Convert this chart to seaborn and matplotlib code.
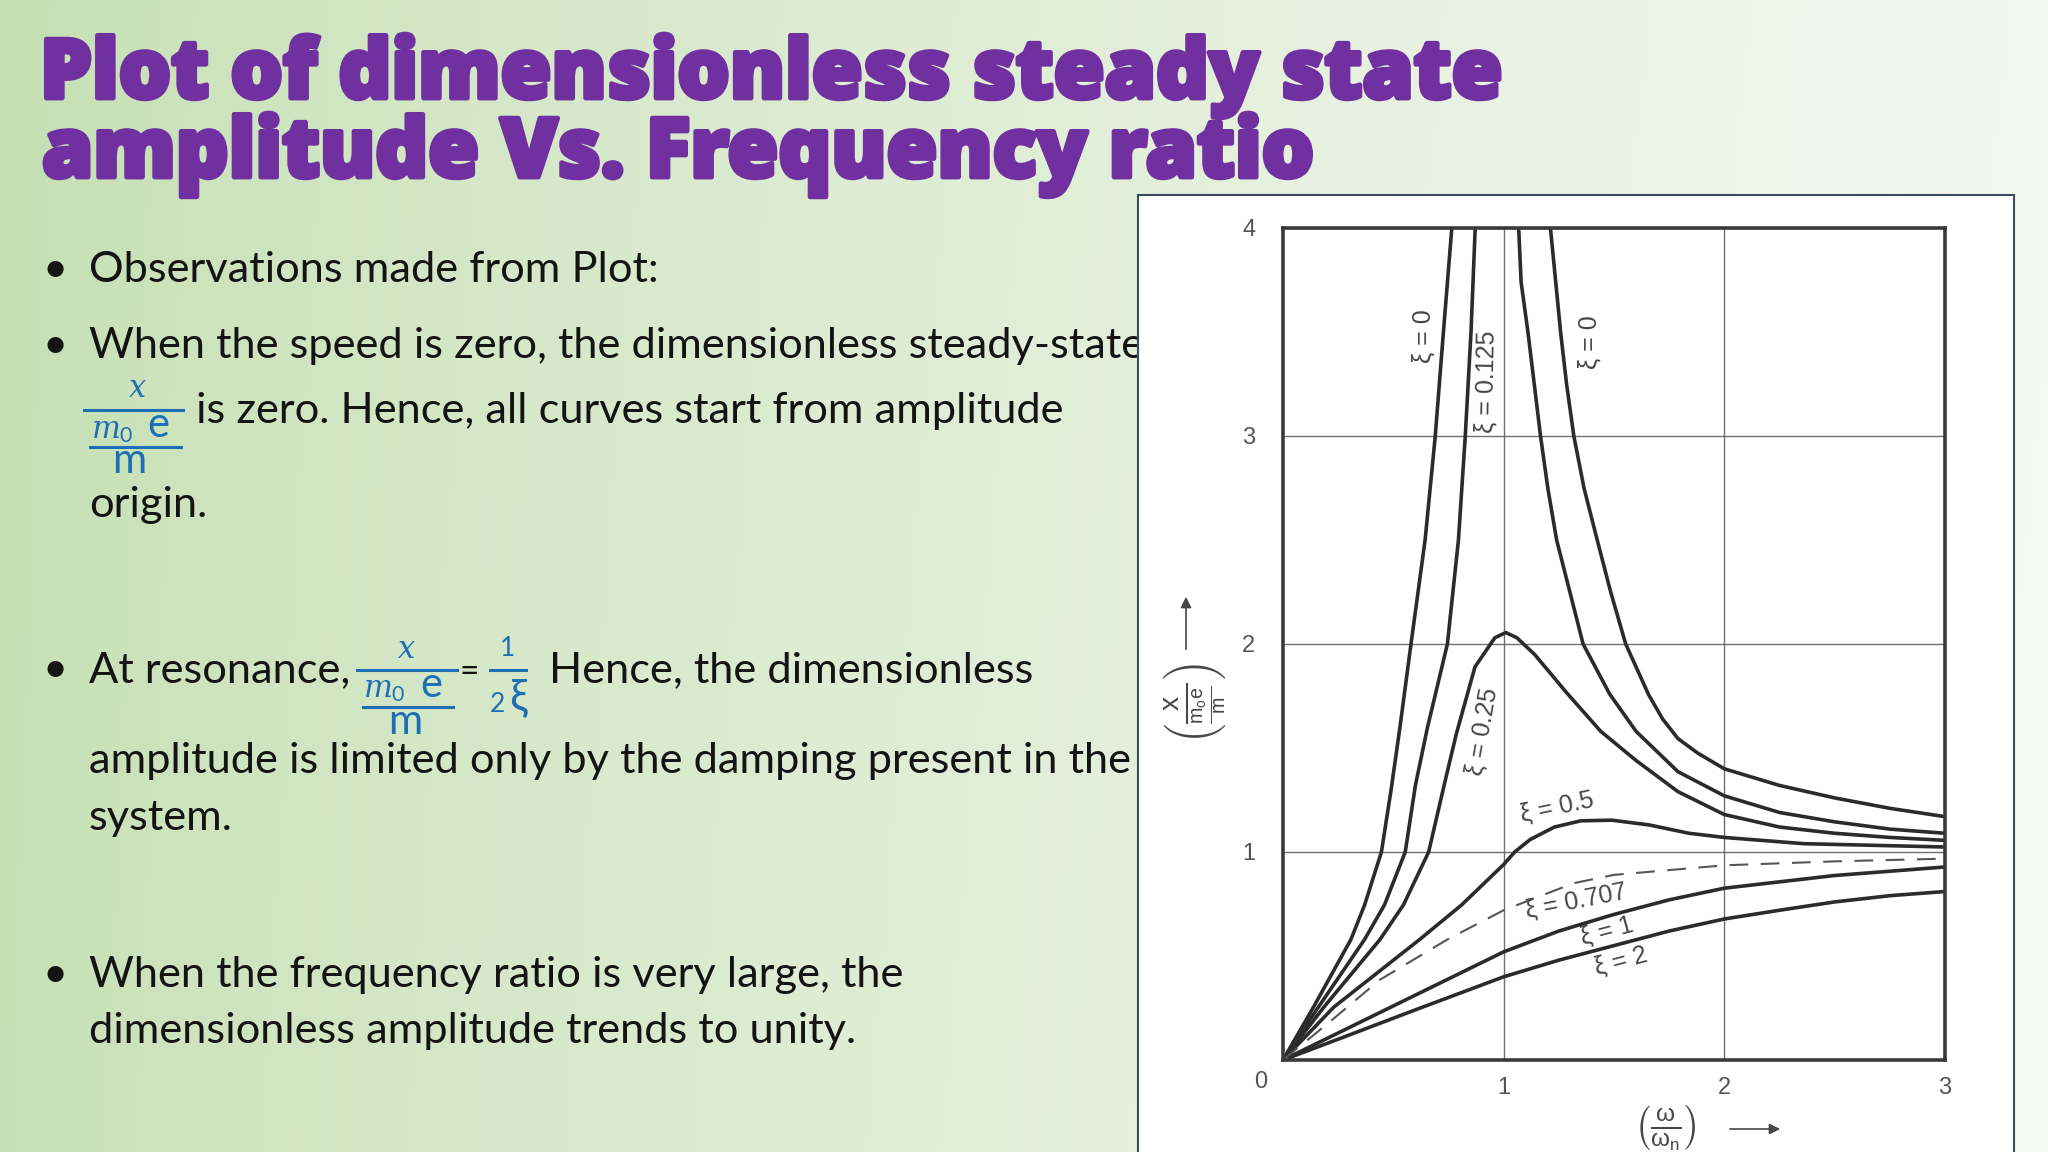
import numpy as np
import pandas as pd
import matplotlib
matplotlib.use("Agg")
import matplotlib.pyplot as plt
import matplotlib.patches as mpatches
import matplotlib.patheffects as pe
from matplotlib.lines import Line2D
import seaborn as sns

# values: frequency ratio r and dimensionless amplitude
r_xi0_left = [0, 0.138, 0.308, 0.37, 0.446, 0.49, 0.53, 0.58, 0.644, 0.69, 0.727, 0.765]
a_xi0_left = [0, 0.254, 0.58, 0.746, 1.0, 1.3, 1.6, 2.0, 2.5, 3.0, 3.5, 4.0]
r_xi0_right = [1.212, 1.235, 1.258, 1.285, 1.318, 1.364, 1.424, 1.485, 1.553, 1.657, 1.72,
               1.79, 1.88, 2.0, 2.25, 2.5, 2.75, 3.0]
a_xi0_right = [4.0, 3.75, 3.5, 3.25, 3.0, 2.75, 2.5, 2.25, 2.0, 1.756, 1.64,
               1.545, 1.475, 1.40, 1.32, 1.26, 1.21, 1.17]

r_xi0125_left = [0, 0.16, 0.37, 0.46, 0.554, 0.60, 0.655, 0.745, 0.795, 0.826, 0.852, 0.871]
a_xi0125_left = [0, 0.254, 0.58, 0.746, 1.0, 1.32, 1.6, 2.0, 2.5, 3.0, 3.5, 4.0]
r_xi0125_right = [1.068, 1.079, 1.11, 1.167, 1.20, 1.24, 1.30, 1.36, 1.48, 1.6, 1.79, 2.0,
                  2.25, 2.5, 2.75, 3.0]
a_xi0125_right = [4.0, 3.74, 3.5, 3.0, 2.75, 2.5, 2.25, 2.0, 1.76, 1.58, 1.386, 1.27,
                  1.19, 1.145, 1.11, 1.09]

r_xi025 = [0, 0.185, 0.44, 0.546, 0.66, 0.73, 0.785, 0.87, 0.96, 1.01, 1.06, 1.14, 1.29,
           1.44, 1.6, 1.79, 2.0, 2.25, 2.5, 2.75, 3.0]
a_xi025 = [0, 0.254, 0.58, 0.746, 1.0, 1.32, 1.566, 1.89, 2.03, 2.055, 2.03, 1.95, 1.76,
           1.58, 1.44, 1.29, 1.18, 1.12, 1.09, 1.07, 1.056]

r_xi05 = [0, 0.23, 0.62, 0.81, 1.0, 1.05, 1.12, 1.23, 1.35, 1.49, 1.66, 1.84, 2.0, 2.36, 3.0]
a_xi05 = [0, 0.254, 0.58, 0.746, 0.94, 1.0, 1.06, 1.12, 1.15, 1.153, 1.13, 1.09, 1.07, 1.04, 1.024]

r_xi0707 = [0, 0.208, 0.438, 0.746, 1.0, 1.317, 1.5, 2.0, 2.5, 3.0]
a_xi0707 = [0, 0.18, 0.385, 0.58, 0.72, 0.85, 0.89, 0.936, 0.955, 0.968]

r_xi1 = [0, 0.5, 0.75, 1.0, 1.25, 1.5, 1.75, 2.0, 2.5, 3.0]
a_xi1 = [0, 0.26, 0.39, 0.52, 0.62, 0.70, 0.77, 0.826, 0.887, 0.928]

r_xi2 = [0, 0.25, 0.592, 1.0, 1.25, 1.5, 1.75, 2.0, 2.25, 2.5, 2.75, 3.0]
a_xi2 = [0, 0.10, 0.238, 0.40, 0.48, 0.55, 0.62, 0.678, 0.72, 0.76, 0.79, 0.81]

x_ticks = [1, 2, 3]
y_ticks = [1, 2, 3, 4]

curve_labels = ["ξ = 0", "ξ = 0.125", "ξ = 0", "ξ = 0.25", "ξ = 0.5", "ξ = 0.707", "ξ = 1", "ξ = 2"]
label_x = [0.636, 0.924, 1.39, 0.905, 1.24, 1.33, 1.47, 1.53]
label_y = [3.48, 3.26, 3.45, 1.58, 1.217, 0.765, 0.62, 0.475]
label_rot = [90, 89, 90, 80, 12, 11, 15, 15]

solid = pd.concat([
    pd.DataFrame({"r": r_xi0_left, "amp": a_xi0_left, "branch": "xi0_l"}),
    pd.DataFrame({"r": r_xi0_right, "amp": a_xi0_right, "branch": "xi0_r"}),
    pd.DataFrame({"r": r_xi0125_left, "amp": a_xi0125_left, "branch": "xi0125_l"}),
    pd.DataFrame({"r": r_xi0125_right, "amp": a_xi0125_right, "branch": "xi0125_r"}),
    pd.DataFrame({"r": r_xi025, "amp": a_xi025, "branch": "xi025"}),
    pd.DataFrame({"r": r_xi05, "amp": a_xi05, "branch": "xi05"}),
    pd.DataFrame({"r": r_xi1, "amp": a_xi1, "branch": "xi1"}),
    pd.DataFrame({"r": r_xi2, "amp": a_xi2, "branch": "xi2"}),
], ignore_index=True)
dashed = pd.DataFrame({"r": r_xi0707, "amp": a_xi0707})

plt.rcParams["mathtext.fontset"] = "custom"
plt.rcParams["mathtext.it"] = "DejaVu Serif:italic"
plt.rcParams["mathtext.rm"] = "Liberation Sans"
plt.rcParams["mathtext.default"] = "regular"

W, H = 2048, 1152
fig = plt.figure(figsize=(20.48, 11.52), dpi=100)


def fx(px):
    return px / W


def fy(py):
    return 1 - py / H


# slide background: green on the left fading to near white
bg = fig.add_axes([0, 0, 1, 1], zorder=-5)
gx = np.linspace(0, 1, 400)[None, :]
gy = np.linspace(0, 1, 225)[:, None]
t = np.clip(gx ** 0.75 * 0.95 + gy * 0.04, 0, 1)
c0 = np.array([196, 223, 178]) / 255
c1 = np.array([246, 249, 243]) / 255
img = c0[None, None, :] * (1 - t[..., None]) + c1[None, None, :] * t[..., None]
bg.imshow(img, aspect="auto", extent=[0, 1, 0, 1])
bg.axis("off")

purple = "#7030a0"
blue = "#1f6fb5"
ink = "#141414"

# title
t1 = fig.text(fx(40), fy(98), "Plot of dimensionless steady state", family="Open Sans",
              weight=800, color=purple, fontsize=50, va="baseline", zorder=4)
t2 = fig.text(fx(42), fy(177), "amplitude Vs. Frequency ratio", family="Open Sans",
              weight=800, color=purple, fontsize=50, va="baseline", zorder=4)
renderer = fig.canvas.get_renderer()
w1 = t1.get_window_extent(renderer).width
size = 50 * 1463 / w1
for tt in (t1, t2):
    tt.set_fontsize(size)
    tt.set_path_effects([pe.withStroke(linewidth=3.5, foreground=purple)])

# body text
body = "Lato"
probe = fig.text(0, 0, "Observations made from Plot:", family=body, fontsize=30)
bsize = 30 * 570 / probe.get_window_extent(renderer).width
probe.remove()

body_lines = [
    (89, 282, "Observations made from Plot:"),
    (89, 358, "When the speed is zero, the dimensionless steady-state"),
    (196, 423, "is zero. Hence, all curves start from amplitude"),
    (89, 517, "origin."),
    (89, 682, "At resonance,"),
    (549, 682, "Hence, the dimensionless"),
    (89, 773, "amplitude is limited only by the damping present in the"),
    (89, 830, "system."),
    (89, 987, "When the frequency ratio is very large, the"),
    (89, 1043, "dimensionless amplitude trends to unity."),
]
for x0, y0, s in body_lines:
    fig.text(fx(x0), fy(y0), s, family=body, fontsize=bsize, color=ink, va="baseline", zorder=1)
for yb in (282, 358, 682, 987):
    fig.text(fx(55), fy(yb), "•", family=body, fontsize=bsize, color=ink, va="baseline",
             ha="center", zorder=1)

# the blue fractions x / (m0 e / m) and 1 / 2xi
frac_pieces = [
    (137, 388, r"$\mathit{x}$", 22), (112, 431, r"$\mathit{m}_0$", 22), (158, 425, "e", 30),
    (129, 461, "m", 30),
    (406, 649, r"$\mathit{x}$", 22), (384, 690, r"$\mathit{m}_0$", 22), (431, 685, "e", 30),
    (405, 722, "m", 30),
    (508, 648, "1", 19), (497, 704, "2", 19), (518, 698, "ξ", 32),
]
for x0, y0, s, fs in frac_pieces:
    fig.text(fx(x0), fy(y0), s, family=["Lato", "DejaVu Sans"], fontsize=fs, color=blue,
             ha="center", va="center", zorder=1)
fig.text(fx(469), fy(672), "=", family=body, fontsize=24, color=ink, ha="center",
         va="center", zorder=1)
for xa, xb, yl in [(84, 183, 410), (90, 181, 447), (357, 457, 670), (363, 453, 707), (490, 526, 670)]:
    fig.add_artist(Line2D([fx(xa), fx(xb)], [fy(yl), fy(yl)], color=blue, lw=2.2, zorder=1))

# white panel holding the scanned plot
panel = mpatches.Rectangle((fx(1138), -0.01), fx(2014) - fx(1138), fy(195) + 0.01,
                           transform=fig.transFigure, facecolor="white", edgecolor="#3b4a5e",
                           lw=1.5, zorder=2)
fig.add_artist(panel)

ax = fig.add_axes([fx(1283), fy(1060), fx(1945) - fx(1283), fy(228) - fy(1060)], zorder=3)
ax.set_facecolor("white")
sns.lineplot(data=solid, x="r", y="amp", units="branch", estimator=None, sort=False,
             color="#2b2b2b", lw=2.6, ax=ax, legend=False)
sns.lineplot(data=dashed, x="r", y="amp", estimator=None, sort=False, color="#555555",
             lw=1.5, ax=ax, legend=False)
ax.lines[-1].set_dashes([9, 6])
for ln in ax.lines:
    ln.set_solid_joinstyle("round")

ax.set_xlim(0, 3)
ax.set_ylim(0, 4)
ax.set_xticks(x_ticks)
ax.set_yticks(y_ticks)
ax.set_xticklabels([str(v) for v in x_ticks])
ax.set_yticklabels([str(v) for v in y_ticks])
ax.tick_params(length=0, labelsize=17, labelcolor="#555555", pad=12)
ax.tick_params(axis="y", pad=20)
for lab in ax.get_xticklabels() + ax.get_yticklabels():
    lab.set_family("Liberation Sans")
ax.grid(True, color="#707070", lw=1.0)
ax.set_axisbelow(True)
for sp in ax.spines.values():
    sp.set_linewidth(2.6)
    sp.set_color("#3a3a3a")
ax.set_xlabel("")
ax.set_ylabel("")

for s, xl, yl, rot in zip(curve_labels, label_x, label_y, label_rot):
    ax.text(xl, yl, s, rotation=rot, ha="center", va="center", fontsize=18,
            color="#474747", family="Liberation Sans", rotation_mode="anchor")

fig.text(fx(1261), fy(1082), "0", fontsize=17, color="#555555", family="Liberation Sans",
         ha="center", va="center", zorder=4)
fig.text(fx(1195), fy(703), r"$\left(\frac{x}{\frac{m_o e}{m}}\right)$", rotation=90,
         fontsize=29, color="#474747", family="Liberation Sans", ha="center", va="center", zorder=4)
fig.text(fx(1665), fy(1128), r"$\left(\frac{ω}{ω_n}\right)$", fontsize=25, color="#474747",
         family="Liberation Sans", ha="center", va="center", zorder=4)
fig.add_artist(mpatches.FancyArrowPatch((fx(1186), fy(652)), (fx(1186), fy(594)),
                                        transform=fig.transFigure, arrowstyle="-|>",
                                        mutation_scale=16, color="#474747", lw=1.2, zorder=4))
fig.add_artist(mpatches.FancyArrowPatch((fx(1727), fy(1129)), (fx(1783), fy(1129)),
                                        transform=fig.transFigure, arrowstyle="-|>",
                                        mutation_scale=16, color="#474747", lw=1.2, zorder=4))

fig.savefig("out.png", dpi=100)
